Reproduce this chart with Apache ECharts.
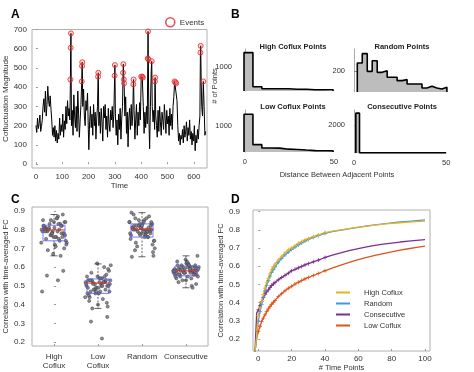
<!DOCTYPE html>
<html><head><meta charset="utf-8">
<script src="https://cdn.jsdelivr.net/npm/echarts@6/dist/echarts.min.js"></script>
<style>html,body{margin:0;padding:0;background:#fff}#c{width:474px;height:372px}</style>
</head><body><div id="c"></div>
<script>
const FONT = 'Liberation Sans, Arial, Helvetica, sans-serif';

// ---------- Panel A : cofluctuation time series ----------
const timeA = [
  0,3,6,9,12,15,18,21,24,27,
  30,33,36,39,42,45,48,51,54,57,
  60,63,66,69,72,75,78,81,84,87,
  90,93,96,99,102,105,108,111,114,117,
  120,123,126,129,131,132,133,135,138,141,
  144,147,150,153,156,159,162,165,168,171,
  174,175,176,178,181,184,187,190,193,196,
  199,201,204,207,210,213,216,219,222,225,
  228,231,234,236,237,239,242,245,248,251,
  254,257,260,263,266,269,272,275,278,281,
  284,287,290,293,296,299,300,302,305,308,
  311,314,317,320,323,326,329,331,332,334,335,
  338,341,344,347,350,353,356,359,362,365,
  368,370,371,373,376,379,382,385,388,391,
  394,397,400,402,404,406,408,411,414,417,
  420,423,425,426,427,429,432,435,438,440,
  442,445,448,451,452,453,455,458,461,464,
  467,470,473,476,479,482,485,488,491,494,
  497,500,503,506,509,512,515,518,521,524,
  527,530,533,536,539,542,545,548,551,554,
  557,560,563,566,569,572,575,578,581,584,
  587,590,593,596,599,602,605,608,611,614,
  617,620,623,625,626,628,630,633,636,639,
  642,645];
const magA = [
  200,165,240,185,210,255,170,195,230,300,
  340,270,380,250,310,405,330,300,355,290,
  230,150,190,140,200,120,175,110,160,130,
  240,150,205,170,260,140,225,180,300,210,
  330,250,290,230,440,605,680,200,280,150,
  360,250,190,300,170,380,260,140,230,310,
  430,510,530,300,390,250,200,330,280,370,
  180,75,220,300,190,260,150,310,200,270,
  130,240,300,455,475,200,270,160,290,220,
  120,300,240,310,180,250,140,290,210,170,
  280,230,300,190,260,460,515,250,150,230,
  100,260,180,290,130,240,300,475,520,440,420,
  250,350,160,270,90,240,290,180,310,200,
  260,415,440,280,130,230,310,150,270,200,
  320,230,455,440,455,450,300,160,270,190,
  300,210,550,690,545,250,80,300,480,535,
  300,220,280,180,430,450,260,200,140,280,
  170,300,220,150,270,230,180,310,240,160,
  280,210,250,150,290,200,260,180,300,350,
  430,425,420,330,200,120,160,100,150,130,
  180,110,200,140,170,220,120,190,150,230,
  130,170,100,160,120,200,70,150,110,180,
  130,200,250,580,615,430,300,250,430,300,
  150,170];
const eventT = [131,132,133,174,175,176,236,237,299,300,331,332,334,335,370,371,400,404,406,425,426,427,440,452,453,527,530,533,625,626,636];
const eventV = [440,605,680,430,510,530,455,475,460,515,475,520,440,420,415,440,455,455,450,550,690,545,535,430,450,430,425,420,580,615,430];
const ticksAx = [0,100,200,300,400,500,600];
const ticksAy = [0,100,200,300,400,500,600,700];

// ---------- Panel B : histograms of distance between adjacent points ----------
const hcEdges = [-0.5,4.5,9.5,14.5,19.5,24.5,29.5,34.5,39.5,44.5,49.5];
const hcCounts = [1600,180,95,95,95,75,75,50,50,50];
const rdEdges = [1.8,4.5,7.2,9.9,12.6,15.3,18,20.7,23.4,26.1,28.8,31.5,34.2,36.9,39.6,42.3,45,47.7,50.4];
const rdCounts = [280,371,200,303,190,205,142,142,110,120,77,77,77,39,55,39,29,45];
const lcEdges = [-0.5,4.5,9.5,14.5,19.5,24.5,29.5,34.5,39.5,44.5,49.5];
const lcCounts = [1466,285,156,150,110,100,75,55,50,45];
const csEdges = [1,3,50];
const csCounts = [2850,8];

// ---------- Panel C : correlation with time-averaged FC ----------
const catsC = ['High\nCoflux','Low\nCoflux','Random','Consecutive'];
const boxStats = [[0.66,0.74,0.798,0.823,0.88],[0.38,0.46,0.515,0.537,0.617],[0.655,0.76,0.80,0.83,0.89],[0.49,0.554,0.58,0.606,0.66]];
const jitter = [-0.12,0.21,-0.25,0.05,0.18,-0.03,0.27,-0.19,0.09,-0.08,0.14,-0.28,0.02,0.24,-0.15,0.11,-0.22,0.07,-0.05,0.29,-0.17,0.16,-0.01,0.2,-0.26,0.04,-0.1,0.25,-0.21,0.13,-0.07,0.22,-0.14,0.01,0.19,-0.24,0.08,-0.02,0.26,-0.18,0.12,-0.29,0.06,0.17,-0.11,0.23,-0.06,0.1,-0.2,0.28,-0.13,0.03,-0.23,0.15,-0.04,0.21,-0.16,0.09,-0.27,0.0];
const ptsHigh = [0.80,0.78,0.85,0.76,0.82,0.79,0.74,0.81,0.87,0.77,0.83,0.80,0.72,0.84,0.79,0.75,0.81,0.86,0.78,0.73,0.80,0.82,0.76,0.88,0.79,0.71,0.83,0.77,0.80,0.74,0.85,0.78,0.69,0.81,0.76,0.82,0.79,0.67,0.84,0.75,0.80,0.73,0.86,0.78,0.81,0.70,0.77,0.83,0.79,0.72,0.80,0.76,0.82,0.66,0.78,0.58,0.555,0.53,0.47,0.84];
const ptsLow = [0.52,0.50,0.55,0.47,0.53,0.49,0.51,0.44,0.54,0.48,0.60,0.52,0.46,0.50,0.57,0.43,0.53,0.51,0.49,0.61,0.47,0.52,0.55,0.41,0.50,0.54,0.48,0.58,0.45,0.52,0.51,0.39,0.53,0.49,0.56,0.46,0.50,0.62,0.47,0.53,0.52,0.44,0.54,0.48,0.51,0.59,0.46,0.50,0.42,0.53,0.38,0.52,0.49,0.55,0.47,0.335,0.31,0.22,0.51,0.40];
const ptsRandom = [0.80,0.83,0.77,0.85,0.79,0.81,0.74,0.88,0.78,0.82,0.76,0.84,0.80,0.72,0.86,0.79,0.81,0.77,0.83,0.70,0.80,0.87,0.78,0.82,0.75,0.84,0.79,0.68,0.81,0.76,0.85,0.80,0.73,0.83,0.78,0.89,0.77,0.81,0.66,0.82,0.79,0.84,0.76,0.80,0.71,0.83,0.78,0.86,0.80,0.74,0.82,0.79,0.655,0.81,0.77,0.84,0.69,0.80,0.78,0.82];
const ptsConsec = [0.58,0.60,0.56,0.62,0.57,0.59,0.55,0.61,0.58,0.53,0.60,0.57,0.63,0.56,0.59,0.58,0.54,0.61,0.57,0.60,0.52,0.58,0.64,0.56,0.59,0.55,0.61,0.58,0.57,0.50,0.60,0.59,0.56,0.62,0.58,0.55,0.60,0.57,0.66,0.59,0.54,0.58,0.61,0.56,0.60,0.51,0.58,0.57,0.63,0.59,0.55,0.60,0.58,0.49,0.57,0.61,0.56,0.59,0.58,0.53];
const ticksCy = [0.2,0.3,0.4,0.5,0.6,0.7,0.8,0.9];

// ---------- Panel D : correlation vs number of time points ----------
const timeD = [-2,-1,0,1,2,3,4,5,6,7,8,9,10,12,14,16,18,20,22,24,26,28,30,33,36,40,45,50,55,60,65,70,75,80,85,90,95,100];
const dHigh = [0.13,0.22,0.33,0.37,0.405,0.445,0.479,0.51,0.534,0.558,0.58,0.597,0.612,0.635,0.655,0.673,0.69,0.70,0.712,0.726,0.736,0.745,0.753,0.763,0.772,0.785,0.794,0.80,0.808,0.815,0.82,0.826,0.831,0.835,0.839,0.842,0.845,0.848];
const dRandom = [0.13,0.20,0.30,0.35,0.39,0.43,0.465,0.495,0.52,0.545,0.565,0.582,0.597,0.622,0.643,0.662,0.678,0.692,0.705,0.717,0.728,0.738,0.747,0.758,0.768,0.781,0.791,0.799,0.807,0.814,0.821,0.827,0.833,0.838,0.843,0.847,0.851,0.855];
const dConsec = [0.13,0.342,0.36,0.385,0.405,0.427,0.446,0.459,0.47,0.482,0.494,0.503,0.51,0.525,0.538,0.55,0.562,0.575,0.583,0.591,0.599,0.607,0.614,0.624,0.634,0.648,0.662,0.675,0.687,0.697,0.706,0.714,0.721,0.727,0.733,0.738,0.742,0.746];
const dLow = [0.13,0.206,0.24,0.27,0.296,0.315,0.333,0.35,0.365,0.378,0.391,0.402,0.412,0.433,0.449,0.465,0.479,0.49,0.502,0.512,0.521,0.53,0.538,0.549,0.56,0.575,0.592,0.608,0.622,0.636,0.648,0.659,0.669,0.679,0.688,0.696,0.703,0.71];
const ticksDx = [0,20,40,60,80,100];
const ticksDy = [0.2,0.3,0.4,0.5,0.6,0.7,0.8,0.9];

// ---------- helpers ----------
function histOutline(edges, counts){
  const pts = [[edges[0],0]];
  for(let i=0;i<counts.length;i++){ pts.push([edges[i],counts[i]]); pts.push([edges[i+1],counts[i]]); }
  pts.push([edges[edges.length-1],0]);
  return pts;
}
const txt = {fontFamily:FONT, fontSize:8, color:'#333'};
const gBase = {show:false, containLabel:false, outerBoundsMode:'none'};
const boxGrid = (o)=>Object.assign({}, gBase, {show:true, borderColor:'#b0b0b0', borderWidth:1, backgroundColor:'transparent'}, o);
const plus = 'path://M4,0H6V4H10V6H6V10H4V6H0V4H4Z';

const grids = [
  boxGrid({left:32, top:29.5, width:175, height:138.5}),        // 0 A
  Object.assign({}, gBase, {left:236, top:49, width:98, height:42}),   // 1 B TL
  Object.assign({}, gBase, {left:349, top:49, width:99, height:43}),   // 2 B TR
  Object.assign({}, gBase, {left:236, top:110, width:98, height:42}),  // 3 B BL
  Object.assign({}, gBase, {left:349, top:110, width:99, height:43}),  // 4 B BR
  boxGrid({left:32, top:207, width:176, height:139}),           // 5 C
  boxGrid({left:253, top:210, width:177, height:141})           // 6 D
];

function bX(grid, min, max, labels){
  return {type:'value', gridIndex:grid, min:min, max:max, axisLine:{show:false}, splitLine:{show:false},
    axisTick:{show:false}, axisLabel:{show:!!labels, customValues:labels||[], ...txt, fontSize:7.5, margin:6}};
}
function bY(grid, max, tick){
  return {type:'value', gridIndex:grid, min:0, max:max, axisLine:{show:true, lineStyle:{color:'#aaa', width:1}},
    splitLine:{show:false}, axisTick:{show:true, inside:true, length:3, customValues:[tick], lineStyle:{color:'#888'}},
    axisLabel:{customValues:[tick], ...txt, fontSize:7.5, margin:4, formatter:v=>String(v)}};
}

const xAxes = [
  {type:'value', gridIndex:0, min:-15, max:650, axisLine:{show:false}, splitLine:{show:false},
   axisTick:{inside:true, length:2, customValues:ticksAx, lineStyle:{color:'#999'}},
   axisLabel:{customValues:ticksAx, ...txt, margin:5},
   name:'Time', nameLocation:'middle', nameGap:12, nameTextStyle:{...txt}},
  bX(1,-5,50,null),
  bX(2,-2.7,51,null),
  bX(3,-5,50,[0,50]),
  bX(4,-2.7,51,[0,50]),
  {type:'category', gridIndex:5, data:catsC, boundaryGap:true, axisLine:{show:false},
   axisTick:{show:true, inside:true, length:2, alignWithLabel:true, lineStyle:{color:'#999'}},
   axisLabel:{...txt, margin:7, lineHeight:8.5, interval:0}},
  {type:'value', gridIndex:5, min:-0.5, max:3.5, show:false},
  {type:'value', gridIndex:6, min:-3.2, max:103, axisLine:{show:false}, splitLine:{show:false},
   axisTick:{inside:true, length:2, customValues:ticksDx, lineStyle:{color:'#999'}},
   axisLabel:{customValues:ticksDx, ...txt, margin:4},
   name:'# Time Points', nameLocation:'middle', nameGap:12, nameTextStyle:{...txt, fontSize:7.5}}
];
const yAxes = [
  {type:'value', gridIndex:0, min:-20, max:700, axisLine:{show:false}, splitLine:{show:false},
   axisTick:{inside:true, length:2, customValues:ticksAy, lineStyle:{color:'#999'}},
   axisLabel:{customValues:ticksAy, ...txt, margin:5},
   name:'Cofluctuation Magnitude', nameLocation:'middle', nameGap:20, nameTextStyle:{...txt}},
  bY(1,1750,1000),
  bY(2,416,200),
  bY(3,1634,1000),
  bY(4,3077,2000),
  {type:'value', gridIndex:5, min:0.18, max:0.92, axisLine:{show:false}, splitLine:{show:false},
   axisTick:{inside:true, length:2, customValues:ticksCy, lineStyle:{color:'#999'}},
   axisLabel:{customValues:ticksCy, ...txt, margin:7, formatter:v=>v.toFixed(1)},
   name:'Correlation with time-averaged FC', nameLocation:'middle', nameGap:20, nameTextStyle:{...txt, fontSize:7.5}},
  {type:'value', gridIndex:6, min:0.134, max:0.909, axisLine:{show:false}, splitLine:{show:false},
   axisTick:{inside:true, length:2, customValues:ticksDy, lineStyle:{color:'#999'}},
   axisLabel:{customValues:ticksDy, ...txt, margin:13, formatter:v=>v.toFixed(1)},
   name:'Correlation with time-averaged FC', nameLocation:'middle', nameGap:24, nameTextStyle:{...txt, fontSize:7.5}}
];

function histSeries(idx, edges, counts){
  return {type:'line', xAxisIndex:idx, yAxisIndex:idx, data:histOutline(edges,counts), showSymbol:false, silent:true,
    lineStyle:{color:'#000', width:1.6}, areaStyle:{color:'#bdbdbd', opacity:1}, animation:false};
}

const groupsC = [ptsHigh, ptsLow, ptsRandom, ptsConsec];
const scatterC = [];
groupsC.forEach((arr,g)=>arr.forEach((v,i)=>scatterC.push([g + jitter[i % jitter.length], v])));

const Dcolors = {high:'#EDB120', random:'#3E9BDE', consec:'#7E2F8E', low:'#E0531A'};
function dSeries(name, vals, color){
  return {name:name, type:'line', xAxisIndex:7, yAxisIndex:6,
    data: timeD.map((t,i)=> t>=0 && t<=40 ? {value:[t,vals[i]]} : {value:[t,vals[i]], symbol:'none'}),
    symbol:plus, symbolSize:4, showSymbol:true, lineStyle:{color:color, width:1.3}, itemStyle:{color:color}, animation:false};
}

const option = {
  backgroundColor:'#fff',
  animation:false,
  textStyle:{fontFamily:FONT},
  title:[
    {text:'A', left:6, top:4, textStyle:{fontFamily:FONT, fontSize:12, fontWeight:'bold', color:'#000'}},
    {text:'B', left:226, top:4, textStyle:{fontFamily:FONT, fontSize:12, fontWeight:'bold', color:'#000'}},
    {text:'C', left:6, top:189, textStyle:{fontFamily:FONT, fontSize:12, fontWeight:'bold', color:'#000'}},
    {text:'D', left:226, top:189, textStyle:{fontFamily:FONT, fontSize:12, fontWeight:'bold', color:'#000'}},
    {text:'High Coflux Points', left:288, top:38, textAlign:'center', textStyle:{fontFamily:FONT, fontSize:7.5, fontWeight:'bold', color:'#222'}},
    {text:'Random Points', left:397, top:38, textAlign:'center', textStyle:{fontFamily:FONT, fontSize:7.5, fontWeight:'bold', color:'#222'}},
    {text:'Low Coflux Points', left:288, top:98, textAlign:'center', textStyle:{fontFamily:FONT, fontSize:7.5, fontWeight:'bold', color:'#222'}},
    {text:'Consecutive Points', left:397, top:98, textAlign:'center', textStyle:{fontFamily:FONT, fontSize:7.5, fontWeight:'bold', color:'#222'}}
  ],
  legend:[
    {data:[{name:'Events', icon:'circle', itemStyle:{color:'#fff', borderColor:'#e8262a', borderWidth:1.6}}],
     left:160, top:12, itemWidth:9, itemHeight:9, textStyle:{...txt}, selectedMode:false},
    {data:['High Coflux','Random','Consecutive','Low Coflux'], orient:'vertical', left:331, top:283,
     icon:'rect', itemWidth:14, itemHeight:2, itemGap:2, selectedMode:false,
     textStyle:{...txt, fontSize:7.5, lineHeight:9, padding:[0,0,0,9]}}
  ],
  grid:grids, xAxis:xAxes, yAxis:yAxes,
  graphic:[
    {type:'text', x:337, y:175, style:{text:'Distance Between Adjacent Points', fontFamily:FONT, fontSize:7.5, fill:'#333', textAlign:'center', textVerticalAlign:'middle'}},
    {type:'text', x:215, y:86, rotation:Math.PI/2, style:{text:'# of Points', fontFamily:FONT, fontSize:7.5, fill:'#333', textAlign:'center', textVerticalAlign:'middle'}}
  ],
  series:[
    {type:'line', xAxisIndex:0, yAxisIndex:0, data:timeA.map((t,i)=>[t,magA[i]]), showSymbol:false, silent:true,
     lineStyle:{color:'#000', width:1}, animation:false},
    {name:'Events', type:'scatter', xAxisIndex:0, yAxisIndex:0, data:eventT.map((t,i)=>[t,eventV[i]]), symbolSize:5,
     itemStyle:{color:'rgba(255,90,90,0.3)', borderColor:'#e8262a', borderWidth:1}, z:5},
    histSeries(1, hcEdges, hcCounts),
    histSeries(2, rdEdges, rdCounts),
    histSeries(3, lcEdges, lcCounts),
    histSeries(4, csEdges, csCounts),
    {type:'scatter', xAxisIndex:6, yAxisIndex:5, data:scatterC, symbolSize:3.2,
     itemStyle:{color:'#7a7a7a', borderColor:'#2a2a3a', borderWidth:0.5, opacity:0.85}, z:2},
    {type:'custom', xAxisIndex:5, yAxisIndex:5, data:boxStats.map((s,i)=>[i].concat(s)), z:3,
     encode:{x:0, y:[1,2,3,4,5]},
     renderItem:function(params, api){
       const i = api.value(0);
       const w = api.size([1,0])[0];
       const bw = w*0.5, cw = w*0.16;
       const pLo = api.coord([i, api.value(1)]), pQ1 = api.coord([i, api.value(2)]),
             pMed = api.coord([i, api.value(3)]), pQ3 = api.coord([i, api.value(4)]), pHi = api.coord([i, api.value(5)]);
       const x = pMed[0];
       const ws = {stroke:'#222', lineWidth:0.7, lineDash:[2,1.5]};
       const cs = {stroke:'#222', lineWidth:0.7};
       return {type:'group', children:[
         {type:'line', shape:{x1:x, y1:pHi[1], x2:x, y2:pQ3[1]}, style:ws},
         {type:'line', shape:{x1:x, y1:pQ1[1], x2:x, y2:pLo[1]}, style:ws},
         {type:'line', shape:{x1:x-cw/2, y1:pHi[1], x2:x+cw/2, y2:pHi[1]}, style:cs},
         {type:'line', shape:{x1:x-cw/2, y1:pLo[1], x2:x+cw/2, y2:pLo[1]}, style:cs},
         {type:'rect', shape:{x:x-bw/2, y:pQ3[1], width:bw, height:pQ1[1]-pQ3[1]}, style:{fill:'none', stroke:'#5a5af0', lineWidth:0.8}},
         {type:'line', shape:{x1:x-bw/2, y1:pMed[1], x2:x+bw/2, y2:pMed[1]}, style:{stroke:'#e23030', lineWidth:1}}
       ]};
     }},
    dSeries('Low Coflux', dLow, Dcolors.low),
    dSeries('Consecutive', dConsec, Dcolors.consec),
    dSeries('Random', dRandom, Dcolors.random),
    dSeries('High Coflux', dHigh, Dcolors.high)
  ]
};
const chart = echarts.init(document.getElementById('c'), null, {renderer:'canvas', width:474, height:372});
chart.setOption(option);
</script>
</body></html>
